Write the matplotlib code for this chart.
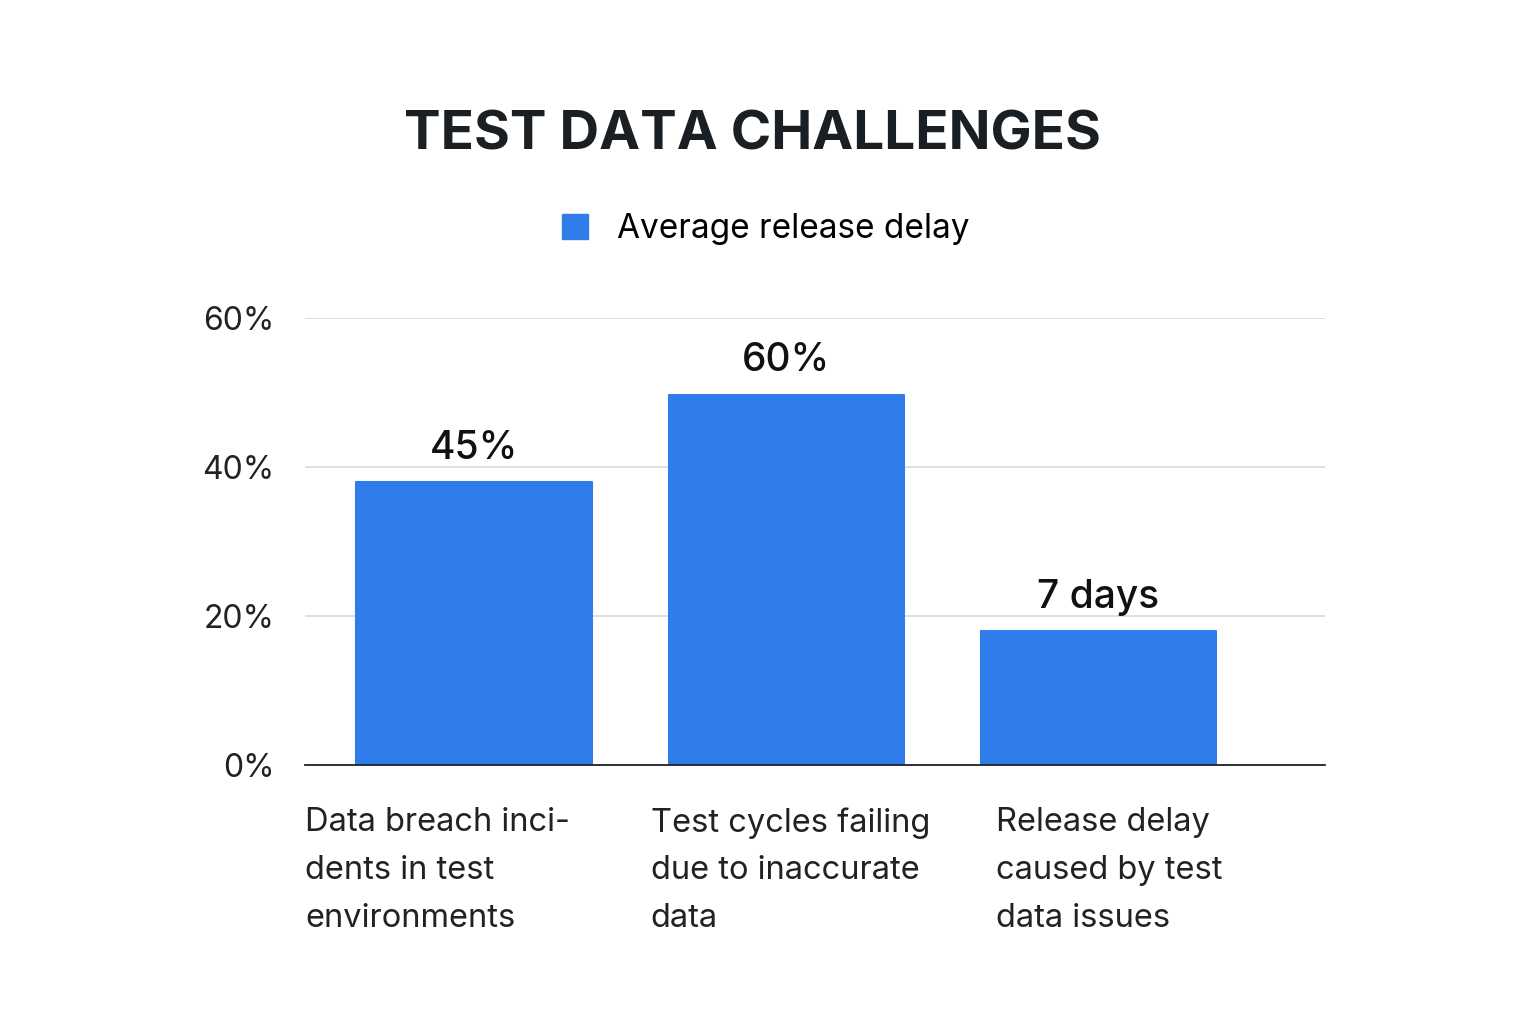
import matplotlib
matplotlib.use("Agg")
import matplotlib.pyplot as plt
from matplotlib.patches import Patch

categories = ["Data breach inci-\ndents in test\nenvironments",
              "Test cycles failing\ndue to inaccurate\ndata",
              "Release delay\ncaused by test\ndata issues"]
values = [38, 49.7, 18]
value_labels = ["45%", "60%", "7 days"]
yticks = [0, 20, 40, 60]
ytick_labels = ["0%", "20%", "40%", "60%"]
series_name = "Average release delay"
title = "TEST DATA CHALLENGES"

color = "#317CEB"
plt.rcParams['font.family'] = ['Inter', 'DejaVu Sans']

fig = plt.figure(figsize=(15.36, 10.24), dpi=100)
ax = fig.add_axes([305/1536, 1-765/1024, 1020/1536, (765-318)/1024])

x = list(range(len(categories)))
bars = ax.bar(x, values, width=0.756, color=color, edgecolor=color,
              linewidth=1.5, joinstyle='round', zorder=3)
ax.set_xlim(-0.543, 2.726)
ax.set_ylim(0, 60)
ax.set_yticks(yticks)
ax.set_yticklabels(ytick_labels, fontsize=23, color="#222222")
ax.tick_params(axis='y', length=0, pad=22)
ax.set_xticks([])
ax.grid(axis='y', color="#d9d9d9", linewidth=1.2, zorder=0)
for s in ["top", "right", "left"]:
    ax.spines[s].set_visible(False)
ax.spines["bottom"].set_color("#222222")
ax.spines["bottom"].set_linewidth(1.3)
ax.spines["bottom"].set_zorder(4)

for xi, v, lab in zip(x, values, value_labels):
    ax.annotate(lab, (xi, v), xytext=(0, 11), textcoords="offset points",
                ha="center", va="bottom", fontsize=28, fontweight="medium",
                color="#111111")

label_x = [0.0, 0.339, 0.677]
for lx, cat in zip(label_x, categories):
    ax.text(lx, -0.094, cat, transform=ax.transAxes, ha="left", va="top",
            fontsize=23.5, color="#222222", linespacing=1.7)

fig.text(0.49, 1-136/1024, title, ha="center", va="center",
         fontsize=39.5, fontweight="bold", color="#1a1f24")

fig.legend(handles=[Patch(facecolor=color, edgecolor=color, label=series_name)],
           loc="center", bbox_to_anchor=(0.4985, 1-229/1024), frameon=False,
           fontsize=24, handlelength=0.78, handleheight=0.78, handletextpad=0.85)

fig.savefig("out.png", dpi=100, facecolor="white")
